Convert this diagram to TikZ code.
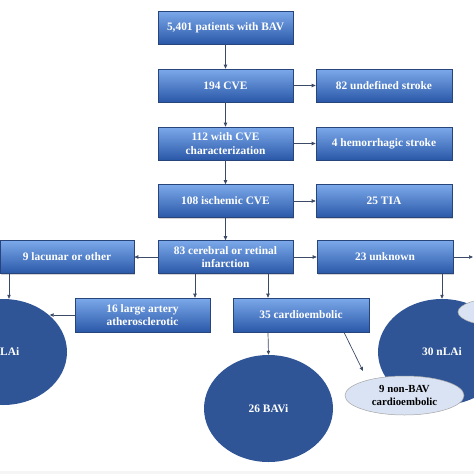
\documentclass[tikz,border=0pt]{standalone}
\usepackage{fontspec}
\setmainfont{Liberation Serif}
\usetikzlibrary{arrows.meta,shadows,shapes.geometric}

\definecolor{boxtop}{HTML}{7CA9EA}
\definecolor{boxmid}{HTML}{4E80D2}
\definecolor{boxbot}{HTML}{2A58A8}
\definecolor{boxline}{HTML}{27457A}
\definecolor{ovaldark}{HTML}{2F5597}
\definecolor{ovallight}{HTML}{DAE3F3}
\definecolor{arrowcol}{HTML}{3B4A66}

\begin{document}
\begin{tikzpicture}
	[
		x=1pt, y=-1pt,
		box/.style = {shape=rectangle, draw=boxline, line width=0.6pt, top color=boxtop, middle color=boxmid, bottom color=boxbot,
			minimum width=135pt, minimum height=33pt, inner sep=1pt, align=center, text=white,
			font=\bfseries\fontsize{11.4}{13.5}\selectfont, anchor=center,
			drop shadow={shadow xshift=1pt, shadow yshift=-1.2pt, opacity=0.35}},
		wbox/.style = {box, minimum width=136pt},
		oval/.style = {shape=ellipse, fill=ovaldark, text=white, inner sep=0pt,
			minimum width=128pt, minimum height=106pt, font=\bfseries\fontsize{11.4}{13.5}\selectfont},
		loval/.style = {shape=ellipse, fill=ovallight, draw=gray!70, line width=0.5pt, inner sep=0pt,
			align=center, font=\bfseries\fontsize{10.8}{13}\selectfont},
		arr/.style = {draw=arrowcol, line width=0.7pt, -{Triangle[length=4pt, width=3.4pt]}}
	]
	
	\useasboundingbox (0,0) rectangle (474,474);
	\fill [gray!8] (0,471) rectangle (474,474);
	
	\def\cx{225.5}
	\def\rx{384}
	
	% main column
	\node [box] (bav) at (\cx, 27.5) {5,401 patients with BAV};
	\node [box] (cve) at (\cx, 85.5) {194 CVE};
	\node [box] (char) at (\cx, 143.5) {112 with CVE\\characterization};
	\node [box] (isch) at (\cx, 201) {108 ischemic CVE};
	\node [box] (infarct) at (\cx, 257) {83 cerebral or retinal\\infarction};
	
	% right column
	\node [wbox] (undef) at (\rx, 85.5) {82 undefined stroke};
	\node [wbox] (hemo) at (\rx, 143.5) {4 hemorrhagic stroke};
	\node [wbox] (tia) at (\rx, 201) {25 TIA};
	\node [wbox] (unknown) at ({\rx + 1}, 257) {23 unknown};
	
	% subtypes
	\node [box, minimum width=134pt] (lacunar) at (67, 257) {9 lacunar or other};
	\node [box, minimum height=34pt] (large) at (142.5, 315) {16 large artery\\atherosclerotic};
	\node [wbox, minimum height=34pt] (cardio) at (301, 315) {35 cardioembolic};
	
	% outcome ovals
	\node [oval] (lai) at (3, 352) {};
	\node [text=white, anchor=west, inner sep=0pt, font=\bfseries\fontsize{11.4}{13.5}\selectfont] (lailabel) at (0, 352) {LAi};
	\node [oval, minimum width=129pt, minimum height=107pt] (bavi) at (268.5, 408.5) {26 BAVi};
	\node [oval] (nlai) at (442, 352) {30 nLAi};
	\node [loval, minimum width=84pt, minimum height=28pt] (other) at (500, 312) {};
	\node [loval, minimum width=119pt, minimum height=39pt] (nonbav) at (404.5, 395.5) {9 non-BAV\\cardioembolic};
	
	\coordinate (edge) at (473, 257);
	\coordinate (cetip) at (363, 371);
	
	% connectors
	\draw [arr] (bav) -- (cve);
	\draw [arr] (cve) -- (char);
	\draw [arr] (char) -- (isch);
	\draw [arr] (isch) -- (infarct);
	\draw [arr] (cve) -- (undef);
	\draw [arr] (char) -- (hemo);
	\draw [arr] (isch) -- (tia);
	\draw [arr] (infarct) -- (lacunar);
	\draw [arr] (infarct) -- (unknown);
	\draw [arr] (unknown) -- (edge);
	
	\draw [arr] ([xshift=-30.5pt]infarct.south) -- ([xshift=52.5pt]large.north);
	\draw [arr] ([xshift=42.5pt]infarct.south) -- ([xshift=-33pt]cardio.north);
	\draw [arr] ([xshift=-58pt]lacunar.south) -- ([xshift=-58pt]lacunar.south |- lai.north);
	\draw [arr] (large.west) -- (large.west -| lai.38);
	\draw [arr] ([xshift=57pt]unknown.south) -- ([xshift=57pt]unknown.south |- nlai.north);
	\draw [arr] ([xshift=-33pt]cardio.south) -- (bavi.north);
	\draw [arr] ([xshift=43pt]cardio.south) -- (cetip);
	
\end{tikzpicture}
\end{document}
